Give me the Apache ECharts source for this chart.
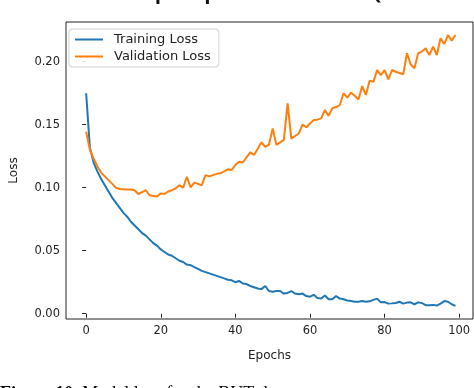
<!DOCTYPE html>
<html><head><meta charset="utf-8">
<script src="https://cdn.jsdelivr.net/npm/echarts@6/dist/echarts.min.js"></script>
<style>html,body{margin:0;padding:0;background:#fff}#c{width:474px;height:388px}</style>
</head><body><div id="c"></div>
<script>
const epochs = Array.from({length:100},(_,i)=>i);
const trainingLoss = [0.175,0.132,0.120,0.113,0.107,0.102,0.097,0.092,0.088,0.084,
0.080,0.077,0.073,0.070,0.067,0.064,0.062,0.059,0.056,0.054,
0.051,0.049,0.047,0.046,0.044,0.042,0.041,0.039,0.0385,0.037,
0.0355,0.034,0.033,0.032,0.031,0.030,0.029,0.028,0.027,0.0265,
0.025,0.026,0.024,0.0235,0.022,0.021,0.020,0.0195,0.022,0.018,
0.0175,0.018,0.018,0.016,0.0165,0.018,0.016,0.0155,0.016,0.014,
0.0135,0.015,0.0125,0.012,0.0145,0.0115,0.0115,0.014,0.012,0.0115,
0.0105,0.010,0.0095,0.0095,0.010,0.0095,0.0098,0.011,0.012,0.009,
0.0092,0.008,0.0082,0.0085,0.0095,0.008,0.0088,0.009,0.0075,0.009,
0.0085,0.0068,0.0068,0.007,0.0065,0.008,0.010,0.0095,0.0075,0.0062];
const validationLoss = [0.1444,0.130,0.123,0.117,0.112,0.109,0.106,0.103,0.100,0.099,
0.0988,0.0985,0.0985,0.098,0.095,0.0965,0.098,0.094,0.0935,0.093,
0.0955,0.095,0.097,0.098,0.0995,0.102,0.100,0.1087,0.1003,0.104,
0.103,0.102,0.110,0.109,0.110,0.111,0.1114,0.113,0.1146,0.114,
0.118,0.1206,0.120,0.124,0.128,0.126,0.131,0.136,0.1325,0.134,
0.147,0.134,0.136,0.138,0.167,0.139,0.141,0.143,0.150,0.148,
0.151,0.1537,0.154,0.155,0.1617,0.157,0.163,0.164,0.1656,0.175,
0.1714,0.1754,0.173,0.170,0.1807,0.1736,0.185,0.184,0.1934,0.1894,
0.1934,0.186,0.1934,0.192,0.191,0.190,0.2067,0.198,0.1947,0.2067,
0.208,0.2106,0.2053,0.212,0.2053,0.2186,0.214,0.2212,0.2167,0.2212];
const xTicks = [0,20,40,60,80,100];
const yTicks = [0,0.05,0.10,0.15,0.20];
const seriesNames = ['Training Loss','Validation Loss'];
const titleText = 'Model loss per epoch on the BUT QDB dataset';
const captionBold = 'Figure 10.';
const captionRest = ' Model loss for the BUT dataset.';

const font = 'DejaVu Sans';
const chart = echarts.init(document.getElementById('c'), null, {renderer:'canvas'});
chart.setOption({
  animation:false,
  backgroundColor:'#fff',
  grid:{left:63,right:1,top:22,bottom:69,show:true,borderColor:'#222',borderWidth:1,backgroundColor:'transparent'},
  legend:{
    data:seriesNames, orient:'vertical', left:69, top:29, icon:'rect',
    backgroundColor:'rgba(255,255,255,0.85)', borderColor:'#d0d0d0', borderWidth:1, borderRadius:3,
    padding:[4,8,4,6], itemGap:4, itemWidth:28, itemHeight:2,
    textStyle:{fontFamily:font,fontSize:13,color:'#222',padding:[0,0,0,6]}
  },
  xAxis:{
    type:'value', min:-5.4, max:103.7, name:'Epochs', nameLocation:'middle', nameGap:31,
    nameTextStyle:{fontFamily:font,fontSize:12,color:'#222'},
    axisLine:{show:false}, splitLine:{show:false},
    axisTick:{show:true,customValues:xTicks,length:4,lineStyle:{color:'#222'}},
    axisLabel:{customValues:xTicks,fontFamily:font,fontSize:11.5,color:'#222',margin:6}
  },
  yAxis:{
    type:'value', min:-0.0042, max:0.2315, name:'Loss', nameLocation:'middle', nameGap:46,
    nameTextStyle:{fontFamily:font,fontSize:12,color:'#222'},
    axisLine:{show:false}, splitLine:{show:false},
    axisTick:{show:true,customValues:yTicks,length:4,lineStyle:{color:'#222'}},
    axisLabel:{customValues:yTicks,fontFamily:font,fontSize:11.5,color:'#222',margin:6,formatter:v=>v.toFixed(2)}
  },
  series:[
    {name:seriesNames[0],type:'line',data:epochs.map((e,i)=>[e,trainingLoss[i]]),showSymbol:false,symbol:'none',
     lineStyle:{color:'#1f77b4',width:2},itemStyle:{color:'#1f77b4'}},
    {name:seriesNames[1],type:'line',data:epochs.map((e,i)=>[e,validationLoss[i]]),showSymbol:false,symbol:'none',
     lineStyle:{color:'#ff7f0e',width:2},itemStyle:{color:'#ff7f0e'}}
  ],
  graphic:[
    {type:'text',x:268,y:4,style:{text:titleText,font:'bold 17px "DejaVu Sans"',fill:'#111',align:'center',verticalAlign:'bottom'}},
    {type:'text',x:0,y:385,style:{text:'{b|'+captionBold+'}{n|'+captionRest+'}',
      rich:{b:{fontFamily:'Liberation Serif',fontWeight:'bold',fontSize:18,fill:'#000'},
            n:{fontFamily:'Liberation Serif',fontSize:18,fill:'#000'}}, verticalAlign:'top'}}
  ]
});
</script></body></html>
